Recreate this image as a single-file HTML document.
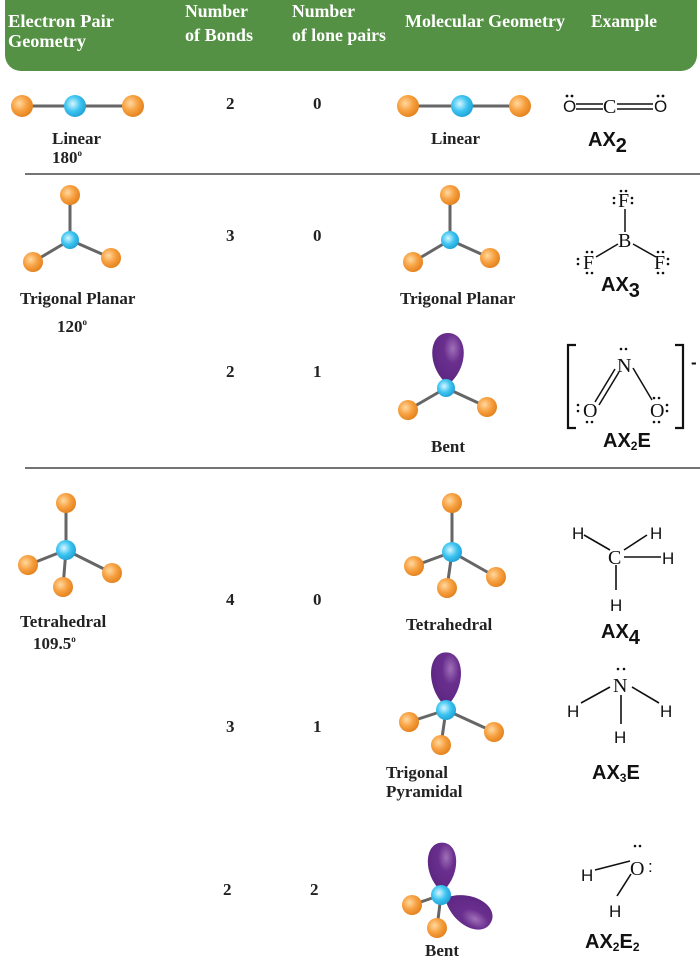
<!DOCTYPE html>
<html><head><meta charset="utf-8"><style>
html,body{margin:0;padding:0;background:#fff;}
svg{display:block;}
.h{font-family:"Liberation Serif",serif;font-weight:bold;font-size:18px;fill:#fff;}
.l{font-family:"Liberation Serif",serif;font-weight:bold;font-size:17px;fill:#222;}
.n{font-family:"Liberation Serif",serif;font-weight:bold;font-size:17px;fill:#222;}
.c{font-family:"Liberation Serif",serif;font-size:20px;fill:#111;}
.s{font-family:"Liberation Sans",sans-serif;font-size:17px;fill:#111;}
.ax{font-family:"Liberation Sans",sans-serif;font-weight:bold;font-size:20px;fill:#111;}
</style></head><body>
<svg width="700" height="959" viewBox="0 0 700 959" xmlns="http://www.w3.org/2000/svg">
<defs>
<radialGradient id="og" cx="0.38" cy="0.38" r="0.7"><stop offset="0" stop-color="#ffd9a0"/><stop offset="0.5" stop-color="#f7a040"/><stop offset="1" stop-color="#e07d18"/></radialGradient>
<radialGradient id="bg" cx="0.4" cy="0.4" r="0.7"><stop offset="0" stop-color="#d8f6ff"/><stop offset="0.5" stop-color="#3cc4f0"/><stop offset="1" stop-color="#1a98d0"/></radialGradient>
<radialGradient id="pg" cx="0.65" cy="0.3" r="0.8"><stop offset="0" stop-color="#a070b8"/><stop offset="0.35" stop-color="#6a2f8e"/><stop offset="1" stop-color="#5a2480"/></radialGradient>
<g id="lobe"><path d="M0,0 C-22,-18 -20,-52 0,-52 C20,-52 22,-18 0,0 Z" fill="url(#pg)"/></g>
</defs>
<rect x="5" y="-15" width="692" height="86" rx="16" fill="#559145"/>
<text class="h" x="8" y="27" textLength="106" lengthAdjust="spacingAndGlyphs">Electron Pair</text>
<text class="h" x="8" y="47" textLength="78" lengthAdjust="spacingAndGlyphs">Geometry</text>
<text class="h" x="185" y="17" textLength="63" lengthAdjust="spacingAndGlyphs">Number</text>
<text class="h" x="185" y="41" textLength="68" lengthAdjust="spacingAndGlyphs">of Bonds</text>
<text class="h" x="292" y="17" textLength="63" lengthAdjust="spacingAndGlyphs">Number</text>
<text class="h" x="292" y="41" textLength="94" lengthAdjust="spacingAndGlyphs">of lone pairs</text>
<text class="h" x="405" y="27" textLength="160" lengthAdjust="spacingAndGlyphs">Molecular Geometry</text>
<text class="h" x="591" y="27" textLength="66" lengthAdjust="spacingAndGlyphs">Example</text>

<g stroke="#666" stroke-width="3">
<line x1="22" y1="106" x2="133" y2="106"/><line x1="408" y1="106" x2="520" y2="106"/>
<line x1="70" y1="240" x2="70" y2="195"/><line x1="70" y1="240" x2="33" y2="262"/><line x1="70" y1="240" x2="111" y2="258"/>
<line x1="450" y1="240" x2="450" y2="195"/><line x1="450" y1="240" x2="413" y2="262"/><line x1="450" y1="240" x2="490" y2="258"/>
<line x1="446" y1="388" x2="408" y2="410"/><line x1="446" y1="388" x2="487" y2="407"/>
<line x1="66" y1="550" x2="66" y2="503"/><line x1="66" y1="550" x2="28" y2="565"/><line x1="66" y1="550" x2="63" y2="587"/><line x1="66" y1="550" x2="112" y2="573"/>
<line x1="452" y1="552" x2="452" y2="503"/><line x1="452" y1="552" x2="414" y2="566"/><line x1="452" y1="552" x2="447" y2="588"/><line x1="452" y1="552" x2="496" y2="577"/>
<line x1="446" y1="710" x2="409" y2="722"/><line x1="446" y1="710" x2="441" y2="745"/><line x1="446" y1="710" x2="494" y2="732"/>
<line x1="441" y1="895" x2="412" y2="905"/><line x1="441" y1="895" x2="437" y2="928"/>
</g>
<use href="#lobe" transform="translate(448,385)"/>
<use href="#lobe" transform="translate(446,707) scale(0.95,1.05)"/>
<use href="#lobe" transform="translate(442,892) scale(0.9,0.95)"/>
<use href="#lobe" transform="translate(445,898) rotate(118) scale(0.95,1)"/>
<g fill="url(#og)">
<circle cx="22" cy="106" r="11"/><circle cx="133" cy="106" r="11"/><circle cx="408" cy="106" r="11"/><circle cx="520" cy="106" r="11"/>
<circle cx="70" cy="195" r="10"/><circle cx="33" cy="262" r="10"/><circle cx="111" cy="258" r="10"/>
<circle cx="450" cy="195" r="10"/><circle cx="413" cy="262" r="10"/><circle cx="490" cy="258" r="10"/>
<circle cx="408" cy="410" r="10"/><circle cx="487" cy="407" r="10"/>
<circle cx="66" cy="503" r="10"/><circle cx="28" cy="565" r="10"/><circle cx="63" cy="587" r="10"/><circle cx="112" cy="573" r="10"/>
<circle cx="452" cy="503" r="10"/><circle cx="414" cy="566" r="10"/><circle cx="447" cy="588" r="10"/><circle cx="496" cy="577" r="10"/>
<circle cx="409" cy="722" r="10"/><circle cx="441" cy="745" r="10"/><circle cx="494" cy="732" r="10"/>
<circle cx="412" cy="905" r="10"/><circle cx="437" cy="928" r="10"/>
</g>
<g fill="url(#bg)">
<circle cx="75" cy="106" r="11"/><circle cx="462" cy="106" r="11"/>
<circle cx="70" cy="240" r="9"/><circle cx="450" cy="240" r="9"/><circle cx="446" cy="388" r="9"/>
<circle cx="66" cy="550" r="10"/><circle cx="452" cy="552" r="10"/><circle cx="446" cy="710" r="10"/><circle cx="441" cy="895" r="10"/>
</g>

<text class="l" x="52" y="144">Linear</text><text class="l" x="52" y="163">180<tspan font-size="9" dy="-7">o</tspan></text>
<text class="l" x="431" y="144">Linear</text>
<text class="n" x="226" y="109">2</text><text class="n" x="313" y="109">0</text>
<line x1="25" y1="174" x2="700" y2="174" stroke="#222" stroke-width="1.3"/>
<text class="l" x="20" y="304">Trigonal Planar</text><text class="l" x="57" y="332">120<tspan font-size="9" dy="-7">o</tspan></text>
<text class="l" x="400" y="304">Trigonal Planar</text>
<text class="n" x="226" y="241">3</text><text class="n" x="313" y="241">0</text>
<text class="l" x="431" y="452">Bent</text>
<text class="n" x="226" y="377">2</text><text class="n" x="313" y="377">1</text>
<line x1="25" y1="468" x2="700" y2="468" stroke="#222" stroke-width="1.3"/>
<text class="l" x="20" y="627">Tetrahedral</text><text class="l" x="33" y="649">109.5<tspan font-size="9" dy="-7">o</tspan></text>
<text class="l" x="406" y="630">Tetrahedral</text>
<text class="n" x="226" y="605">4</text><text class="n" x="313" y="605">0</text>
<text class="l" x="386" y="778">Trigonal</text><text class="l" x="386" y="797">Pyramidal</text>
<text class="n" x="226" y="732">3</text><text class="n" x="313" y="732">1</text>
<text class="l" x="425" y="956">Bent</text>
<text class="n" x="223" y="895">2</text><text class="n" x="310" y="895">2</text>

<!-- CO2 -->
<text class="s" x="563" y="112">O</text><text class="c" x="603" y="113">C</text><text class="s" x="654" y="112">O</text>
<g stroke="#111" stroke-width="1.6"><line x1="576" y1="104" x2="603" y2="104"/><line x1="576" y1="109" x2="603" y2="109"/><line x1="617" y1="104" x2="653" y2="104"/><line x1="617" y1="109" x2="653" y2="109"/></g>
<g fill="#111"><circle cx="567" cy="96" r="1.4"/><circle cx="572" cy="96" r="1.4"/><circle cx="658" cy="96" r="1.4"/><circle cx="663" cy="96" r="1.4"/></g>
<text class="ax" x="588" y="146">AX<tspan dy="6">2</tspan></text>
<!-- BF3 -->
<text class="c" x="618" y="207">F</text><text class="c" x="618" y="247">B</text><text class="c" x="583" y="269">F</text><text class="c" x="654" y="269">F</text>
<g stroke="#111" stroke-width="1.5"><line x1="625" y1="209" x2="625" y2="232"/><line x1="618" y1="244" x2="596" y2="257"/><line x1="633" y1="244" x2="656" y2="257"/></g>
<g fill="#111"><circle cx="621" cy="191" r="1.3"/><circle cx="626" cy="191" r="1.3"/><circle cx="614" cy="198" r="1.3"/><circle cx="614" cy="203" r="1.3"/><circle cx="632" cy="198" r="1.3"/><circle cx="632" cy="203" r="1.3"/>
<circle cx="578" cy="259" r="1.3"/><circle cx="578" cy="264" r="1.3"/><circle cx="587" cy="252" r="1.3"/><circle cx="592" cy="252" r="1.3"/><circle cx="587" cy="273" r="1.3"/><circle cx="592" cy="273" r="1.3"/>
<circle cx="668" cy="259" r="1.3"/><circle cx="668" cy="264" r="1.3"/><circle cx="658" cy="252" r="1.3"/><circle cx="663" cy="252" r="1.3"/><circle cx="658" cy="273" r="1.3"/><circle cx="663" cy="273" r="1.3"/></g>
<text class="ax" x="601" y="291">AX<tspan dy="6">3</tspan></text>
<!-- NO2- -->
<path d="M576,345 L568,345 L568,428 L576,428 M675,345 L683,345 L683,428 L675,428" fill="none" stroke="#111" stroke-width="2.2"/>
<text class="s" x="691" y="368" font-weight="bold">-</text>
<text class="c" x="617" y="372">N</text><text class="c" x="583" y="417">O</text><text class="c" x="650" y="417">O</text>
<g stroke="#111" stroke-width="1.5"><line x1="595" y1="402" x2="615" y2="369"/><line x1="599" y1="405" x2="619" y2="372"/><line x1="633" y1="368" x2="652" y2="400"/></g>
<g fill="#111"><circle cx="621" cy="349" r="1.3"/><circle cx="626" cy="349" r="1.3"/><circle cx="578" cy="405" r="1.3"/><circle cx="578" cy="411" r="1.3"/><circle cx="587" cy="422" r="1.3"/><circle cx="592" cy="422" r="1.3"/>
<circle cx="654" cy="398" r="1.3"/><circle cx="659" cy="398" r="1.3"/><circle cx="667" cy="405" r="1.3"/><circle cx="667" cy="411" r="1.3"/><circle cx="654" cy="422" r="1.3"/><circle cx="659" cy="422" r="1.3"/></g>
<text class="ax" x="603" y="447">AX<tspan font-size="12" dy="3">2</tspan><tspan dy="-3">E</tspan></text>
<!-- CH4 -->
<text class="c" x="608" y="564">C</text>
<text class="s" x="572" y="539">H</text><text class="s" x="650" y="539">H</text><text class="s" x="662" y="564">H</text><text class="s" x="610" y="611">H</text>
<g stroke="#111" stroke-width="1.6"><line x1="584" y1="535" x2="610" y2="550"/><line x1="624" y1="550" x2="647" y2="535"/><line x1="624" y1="557" x2="661" y2="557"/><line x1="616" y1="565" x2="616" y2="590"/></g>
<text class="ax" x="601" y="638">AX<tspan dy="6">4</tspan></text>
<!-- NH3 -->
<text class="c" x="613" y="692">N</text>
<text class="s" x="567" y="717">H</text><text class="s" x="660" y="717">H</text><text class="s" x="614" y="743">H</text>
<g stroke="#111" stroke-width="1.6"><line x1="581" y1="703" x2="610" y2="687"/><line x1="632" y1="687" x2="659" y2="703"/><line x1="621" y1="695" x2="621" y2="724"/></g>
<g fill="#111"><circle cx="618" cy="669" r="1.3"/><circle cx="624" cy="669" r="1.3"/></g>
<text class="ax" x="592" y="779">AX<tspan font-size="12" dy="3">3</tspan><tspan dy="-3">E</tspan></text>
<!-- H2O -->
<text class="c" x="630" y="875">O</text><text class="s" x="648" y="872">:</text>
<text class="s" x="581" y="881">H</text><text class="s" x="609" y="917">H</text>
<g stroke="#111" stroke-width="1.6"><line x1="595" y1="870" x2="630" y2="861"/><line x1="617" y1="896" x2="631" y2="874"/></g>
<g fill="#111"><circle cx="635" cy="846" r="1.3"/><circle cx="640" cy="846" r="1.3"/></g>
<text class="ax" x="585" y="948">AX<tspan font-size="12" dy="3">2</tspan><tspan dy="-3">E</tspan><tspan font-size="12" dy="3">2</tspan></text>
</svg>
</body></html>
